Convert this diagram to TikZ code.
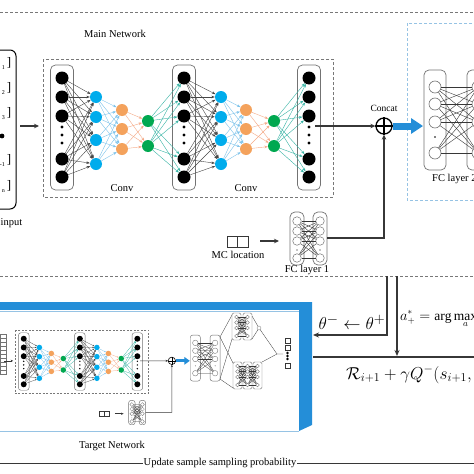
\documentclass[tikz,border=0pt]{standalone}
\usepackage{fontspec}
\setmainfont{Liberation Serif}
\usetikzlibrary{arrows.meta}
\definecolor{nblue}{RGB}{0,172,236}
\definecolor{norange}{RGB}{244,162,92}
\definecolor{ngreen}{RGB}{0,168,80}
\definecolor{lblue}{RGB}{125,195,235}
\definecolor{lorange}{RGB}{245,170,135}
\definecolor{lteal}{RGB}{55,180,165}
\definecolor{kline}{RGB}{70,70,70}
\definecolor{boxblue}{RGB}{36,142,216}
\definecolor{dashblue}{RGB}{150,195,228}
\definecolor{dgray}{RGB}{55,55,55}
\definecolor{mgray}{RGB}{115,115,115}
\definecolor{dashgray}{RGB}{120,120,120}
\tikzset{
 blk/.style={circle,fill=black,inner sep=0pt,minimum size=13pt},
 bln/.style={circle,fill=nblue,inner sep=0pt,minimum size=12pt},
 orn/.style={circle,fill=norange,inner sep=0pt,minimum size=12pt},
 grn/.style={circle,fill=ngreen,inner sep=0pt,minimum size=12pt},
 lbl/.style={font=\fontsize{10.5}{12}\selectfont,inner sep=1pt,text=black},
 bigsizes/.style={
  colbox/.style={draw=mgray,rounded corners=5pt,line width=0.7pt},
  netdash/.style={draw=dashgray,dash pattern=on 3pt off 2pt,line width=0.6pt},
  kconn/.style={draw=kline,line width=0.4pt,-{Stealth[length=3.5pt,width=2.6pt]}},
  bconn/.style={draw=lblue,line width=0.4pt,-{Stealth[length=3.5pt,width=2.6pt]}},
  oconn/.style={draw=lorange,line width=0.4pt,-{Stealth[length=3.5pt,width=2.6pt]}},
  tconn/.style={draw=lteal,line width=0.4pt,-{Stealth[length=3.5pt,width=2.6pt]}},
  fcn/.style={circle,draw=mgray,inner sep=0pt,minimum size=12pt,line width=0.6pt},
  fcs/.style={circle,draw=mgray,inner sep=0pt,minimum size=8.5pt,line width=0.5pt},
  fcln/.style={draw=dgray,line width=0.4pt},
  marr/.style={draw=dgray,line width=1.1pt,-{Stealth[length=5pt,width=4.5pt]}},
  catn/.style={circle,draw=black,line width=1.3pt,inner sep=0pt,minimum size=16pt},
  catx/.style={draw=black,line width=1.3pt},
  bluearr/.style={draw=boxblue,line width=7pt,-{Triangle[length=12pt,width=15pt]}},
  mcbox/.style={draw=dgray,line width=0.6pt}
 },
 smallsizes/.style={
  colbox/.style={draw=mgray,rounded corners=2.5pt,line width=0.45pt},
  netdash/.style={draw=dashgray,dash pattern=on 2pt off 1.5pt,line width=0.5pt},
  kconn/.style={draw=kline,line width=0.25pt,-{Stealth[length=1.7pt,width=1.3pt]}},
  bconn/.style={draw=lblue,line width=0.25pt,-{Stealth[length=1.7pt,width=1.3pt]}},
  oconn/.style={draw=lorange,line width=0.25pt,-{Stealth[length=1.7pt,width=1.3pt]}},
  tconn/.style={draw=lteal,line width=0.25pt,-{Stealth[length=1.7pt,width=1.3pt]}},
  fcn/.style={circle,draw=mgray,inner sep=0pt,minimum size=12pt,line width=0.35pt},
  fcs/.style={circle,draw=mgray,inner sep=0pt,minimum size=8.5pt,line width=0.3pt},
  fcln/.style={draw=dgray,line width=0.25pt},
  marr/.style={draw=dgray,line width=0.5pt,-{Stealth[length=2.5pt,width=2.2pt]}},
  catn/.style={circle,draw=black,line width=0.6pt,inner sep=0pt,minimum size=16pt},
  catx/.style={draw=black,line width=0.6pt},
  bluearr/.style={draw=boxblue,line width=3.3pt,-{Triangle[length=5.5pt,width=7.5pt]}},
  mcbox/.style={draw=dgray,line width=0.35pt}
 },
 dcol/.style={draw=mgray,rounded corners=1.5pt,line width=0.4pt},
 dfc/.style={circle,draw=mgray,inner sep=0pt,minimum size=3.6pt,line width=0.3pt},
 dln/.style={draw=dgray,line width=0.3pt},
 bigline/.style={draw=dgray,line width=1.1pt},
 bigarr/.style={bigline,-{Stealth[length=6pt,width=5pt]}},
 gdash/.style={draw=dashgray,dash pattern=on 3pt off 2pt,line width=0.6pt}
}
\newcommand\netbody[1]{%
  \draw[netdash] (43,59) rectangle (333,197);
  \draw[colbox] (50.5,65) rectangle (73.5,190);
  \draw[colbox] (172.5,65) rectangle (195.5,190);
  \draw[colbox] (297.5,65) rectangle (320.5,190);
  \foreach \i/\y in {1/78,2/97,3/116,4/159,5/177}{
    \node[blk] (#1a\i) at (62,\y) {};
    \node[blk] (#1e\i) at (184,\y) {};
    \node[blk] (#1i\i) at (309,\y) {};
  }
  \foreach \x in {62,184,309}{\foreach \y in {127,135,143}{\fill[black] (\x,\y) circle (1.7);}}
  \foreach \i/\y in {1/97,2/117,3/140,4/164}{
    \node[bln] (#1b\i) at (96,\y) {};
    \node[bln] (#1f\i) at (221,\y) {};
  }
  \foreach \i/\y in {1/110,2/129,3/149}{
    \node[orn] (#1c\i) at (122,\y) {};
    \node[orn] (#1g\i) at (246,\y) {};
  }
  \foreach \i/\y in {1/121,2/146}{
    \node[grn] (#1d\i) at (148,\y) {};
    \node[grn] (#1h\i) at (274,\y) {};
  }
  \foreach \i in {1,...,5}{\foreach \j in {1,...,4}{
    \draw[kconn] (#1a\i) -- (#1b\j);
    \draw[kconn] (#1e\i) -- (#1f\j);}}
  \foreach \i in {1,...,4}{\foreach \j in {1,2,3}{
    \draw[bconn] (#1b\i) -- (#1c\j);
    \draw[bconn] (#1f\i) -- (#1g\j);}}
  \foreach \i in {1,2,3}{\foreach \j in {1,2}{
    \draw[oconn] (#1c\i) -- (#1d\j);
    \draw[oconn] (#1g\i) -- (#1h\j);}}
  \foreach \i in {1,2}{\foreach \j in {1,...,5}{
    \draw[tconn] (#1d\i) -- (#1e\j);
    \draw[tconn] (#1h\i) -- (#1i\j);}}
  % input arrow
  \coordinate (#1ia) at (20,126);
  \coordinate (#1iz) at (39,126);
  \draw[marr] (#1ia) -- (#1iz);
  % concat
  \coordinate (#1o) at (315,126);
  \node[catn] (#1cat) at (384,126) {};
  \draw[catx] (#1cat.north) -- (#1cat.south) (#1cat.west) -- (#1cat.east);
  \draw[marr] (#1o) -- (#1cat);
  \coordinate (#1ba) at (393,126);
  \coordinate (#1bz) at (423,126);
  \draw[bluearr] (#1ba) -- (#1bz);
  % FC layer 2
  \draw[colbox] (424,70) rectangle (446,170);
  \draw[colbox] (467,70) rectangle (489,170);
  \foreach \i/\y in {1/87,2/104,3/122,4/153}{
    \node[fcn] (#1p\i) at (435,\y) {};
    \node[fcn] (#1q\i) at (478,\y) {};}
  \fill[black] (435,137) circle (0.9);
  \fill[black] (478,137) circle (0.9);
  \foreach \i in {1,...,4}{\foreach \j in {1,...,4}{\draw[fcln] (#1p\i) -- (#1q\j);}}
  % FC layer 1
  \draw[colbox] (290,212) rectangle (304,265);
  \draw[colbox] (313,212) rectangle (327,265);
  \foreach \i/\y in {1/221,2/231,3/241,4/258}{
    \node[fcs] (#1u\i) at (297,\y) {};
    \node[fcs] (#1v\i) at (320,\y) {};}
  \fill[black] (297,250) circle (0.7);
  \fill[black] (320,250) circle (0.7);
  \foreach \i in {1,...,4}{\foreach \j in {1,...,4}{\draw[fcln] (#1u\i) -- (#1v\j);}}
  \coordinate (#1fo) at (327,238);
  \coordinate (#1fc) at (384,238);
  \draw[marr] (#1fo) -- (#1fc) -- (#1cat);
  % MC location
  \draw[mcbox] (227,236) rectangle (248,247) (237.5,236) -- (237.5,247);
  \coordinate (#1ma) at (260,241);
  \coordinate (#1mz) at (279,241);
  \draw[marr] (#1ma) -- (#1mz);
}
\begin{document}
\begin{tikzpicture}[x=1pt,y=-1pt]
\useasboundingbox (0,0) rectangle (474,474);
\clip (0,0) rectangle (474,474);
\fill[white] (0,0) rectangle (474,474);
% dashed separators
\draw[gdash] (0,12) -- (474,12);
\draw[gdash] (0,276) -- (474,276);
% FC layer 2 dashed box
\draw[draw=dashblue,dash pattern=on 3pt off 2pt,line width=0.6pt] (407,23) rectangle (490,200);
% input box
\draw[draw=black,line width=1pt,rounded corners=6pt] (-20,50) rectangle (16,209);
\foreach \y/\s in {63/1,88/2,113/3,160/{n-1},186/n}{
  \node[font=\fontsize{13}{14}\selectfont,inner sep=0pt] at (9,\y) {]};
  \node[font=\fontsize{6}{7}\selectfont,inner sep=0pt,anchor=east] at (5,\y+5) {\s};
}
\fill[black] (2,136) circle (2.4);
\node[lbl,anchor=east] (inp) at (23.5,223) {input};
% main network
\begin{scope}[bigsizes]
\netbody{m}
\end{scope}
\node[lbl] (mainlbl) at (115,34) {Main Network};
\node[lbl] (conv1) at (122,188) {Conv};
\node[lbl] (conv2) at (246,188) {Conv};
\node[lbl,font=\fontsize{9.5}{11}\selectfont] (catlbl) at (384,108) {Concat};
\node[lbl,anchor=west] (fc2lbl) at (431,179) {FC layer 2};
\node[lbl] (fc1lbl) at (307,270) {FC layer 1};
\node[lbl] (mclbl) at (238,255) {MC location};
% target box: top band and right side
\fill[boxblue] (0,302) rectangle (312,310);
\fill[boxblue] (299,310) -- (312,302) -- (312,425) -- (299,431) -- cycle;
\draw[draw=dashblue,line width=0.6pt] (0,311) -- (299,311);
\draw[draw=dashblue,line width=0.6pt] (0,431.5) -- (299,431.5);
% target input bar
\draw[draw=mgray,line width=0.4pt] (0,334) rectangle (6,374);
\foreach \y in {338,342,...,370}{\draw[draw=mgray,line width=0.3pt] (0,\y) -- (6,\y);}
% target network (scaled copy)
\begin{scope}[shift={(-4.78,302.86)},scale=0.46,transform shape,smallsizes]
\netbody{t}
\end{scope}
% dueling head
\draw[dcol] (232,313) rectangle (241,340);
\draw[dcol] (243,313) rectangle (252,340);
\foreach \i/\y in {1/317,2/322.5,3/328,4/336}{
  \node[dfc] (da\i) at (236.5,\y) {};
  \node[dfc] (db\i) at (247.5,\y) {};}
\foreach \i in {1,...,4}{\foreach \j in {1,...,4}{\draw[dln] (da\i) -- (db\j);}}
\draw[dcol] (233,362) rectangle (242,389);
\draw[dcol] (243,362) rectangle (252,389);
\draw[dcol] (253,362) rectangle (262,389);
\foreach \i/\y in {1/366,2/371.5,3/377,4/385}{
  \node[dfc] (dx\i) at (237.5,\y) {};
  \node[dfc] (dy\i) at (247.5,\y) {};
  \node[dfc] (dz\i) at (257.5,\y) {};}
\foreach \i in {1,...,4}{\foreach \j in {1,...,4}{\draw[dln] (dx\i) -- (dy\j); \draw[dln] (dy\i) -- (dz\j);}}
\coordinate (dq1) at (220,337);
\coordinate (dq2) at (220,379);
\coordinate (dtl1) at (232,315);
\coordinate (dtl2) at (232,339);
\coordinate (dbl1) at (233,363);
\coordinate (dbl2) at (233,388);
\draw[dln] (dq1) -- (dtl1) (dq1) -- (dbl1) (dq2) -- (dtl2) (dq2) -- (dbl2);
\coordinate (dtr1) at (252,316);
\coordinate (dtr2) at (252,339);
\node[dfc,minimum size=4pt] (dv) at (259,328) {};
\draw[dln] (dtr1) -- (dv) (dtr2) -- (dv);
\coordinate (dj) at (277,354);
\coordinate (dbr) at (262,362);
\coordinate (dk) at (283,354);
\draw[dln] (dv) -- (dj) (dbr) -- (dj) (dj) -- (dk);
\draw[draw=dgray,line width=0.4pt] (285,338) rectangle (290,343) (285,345) rectangle (290,350) (285,363) rectangle (290,368);
\foreach \y in {353,356,359}{\fill[black] (287.5,\y) circle (1.3);}
% arrows into target box
\coordinate (th0) at (387,276);
\coordinate (th1) at (387,335);
\coordinate (th2) at (313,335);
\draw[bigarr] (th0) -- (th1) -- (th2);
\coordinate (r0) at (397,276);
\coordinate (r1) at (397,356);
\draw[bigarr] (r0) -- (r1);
\coordinate (h0) at (313,357);
\coordinate (h1) at (474,357);
\draw[bigline] (h0) -- (h1);
\node[inner sep=0pt] (theta) at (352,322) {\fontsize{19}{22}\selectfont $\theta^{-}\leftarrow\theta^{+}$};
\node[inner sep=0pt,anchor=base west] (amax) at (400,320) {\fontsize{13.5}{16}\selectfont $\displaystyle a^{*}_{+}=\arg\max_{a}$};
\node[inner sep=0pt,anchor=base west] (rexp) at (346,379) {\fontsize{17}{20}\selectfont $\mathcal{R}_{i+1}+\gamma Q^{-}(s_{i+1},a$};
% labels and bottom line
\node[lbl] (tgt) at (112,446) {Target Network};
\node[lbl] (upd) at (220,463) {Update sample sampling probability};
\coordinate (ul) at (0,463);
\coordinate (ur) at (474,463);
\draw[draw=dgray,line width=1pt] (ul) -- (upd.west) (upd.east) -- (ur);
\end{tikzpicture}
\end{document}
